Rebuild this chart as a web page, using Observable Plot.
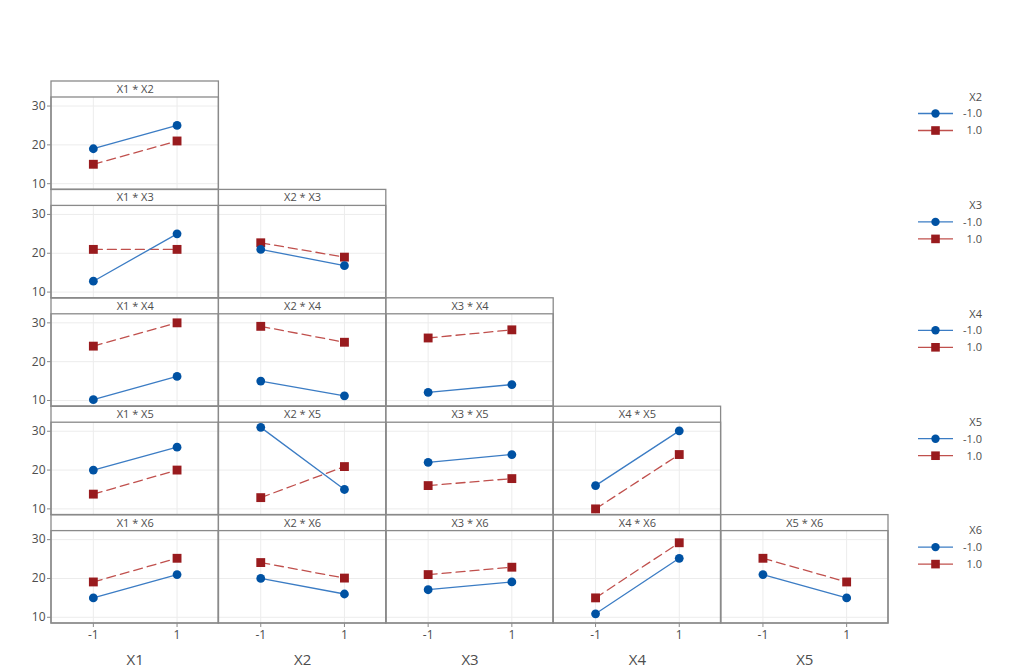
<!DOCTYPE html>
<html>
<head>
<meta charset="utf-8">
<script src="https://cdn.jsdelivr.net/npm/d3@7"></script>
<script src="https://cdn.jsdelivr.net/npm/@observablehq/plot@0.6"></script>
<style>
  html, body { margin: 0; padding: 0; background: #fff; }
  #chart { position: relative; width: 1024px; height: 669px; }
  svg { font-family: "Open Sans", "Noto Sans", sans-serif; }
</style>
</head>
<body>
<div id="chart"></div>
<script>
// ---- data ----
const panels = ["X1 * X2","X1 * X3","X2 * X3","X1 * X4","X2 * X4","X3 * X4",
                "X1 * X5","X2 * X5","X3 * X5","X4 * X5",
                "X1 * X6","X2 * X6","X3 * X6","X4 * X6","X5 * X6"];
const xLevels = [-1, 1];
const traceLevels = ["-1.0", "1.0"];
// mean at x = -1 and x = 1, for trace level -1.0 (blue) and 1.0 (red)
const meansLow  = [[19,25],[12.8,25],[21,16.8],[10.2,16.2],[15,11.2],[12.1,14.1],
                   [20,25.9],[31,15],[22,24],[16,30.1],
                   [15,21],[20,16],[17.1,19.1],[10.9,25.2],[21,15]];
const meansHigh = [[15,21],[21,21],[22.7,19],[24,30],[29.1,25],[26.1,28.2],
                   [13.8,20],[12.9,20.9],[16,17.8],[10,24],
                   [19.1,25.2],[24.1,20.1],[21,22.9],[15,29.2],[25.2,19.1]];
const colFactors = ["X1","X2","X3","X4","X5"];
const rowFactors = ["X2","X3","X4","X5","X6"];
const yTicks = [10, 20, 30];

// ---- build tables ----
const panelInfo = panels.map(p => { const [c, r] = p.split(" * "); return {panel: p, col: c, row: r}; });
const rows = [];
panelInfo.forEach((p, i) => {
  [meansLow, meansHigh].forEach((m, t) => {
    xLevels.forEach((x, j) => rows.push({...p, x, y: m[i][j], trace: traceLevels[t]}));
  });
});
const low = rows.filter(d => d.trace === "-1.0");
const high = rows.filter(d => d.trace === "1.0");

const BLUE = "#0052a3", BLUE_LINE = "#3b7cc4";
const RED = "#991b1e", RED_LINE = "#c0504d";
const FRAME = "#8a8a8a", TEXT = "#4d4d4d", GRID = "#ececec";
const HEADER = 16;

const chart = Plot.plot({
  width: 1024,
  height: 669,
  marginTop: 97,
  marginBottom: 46,
  marginLeft: 51,
  marginRight: 136,
  style: {fontFamily: "'Open Sans', 'Noto Sans', sans-serif", color: TEXT, fontSize: "11px"},
  fx: {domain: colFactors, padding: 0, round: false},
  fy: {domain: rowFactors, paddingInner: 0.1477, paddingOuter: 0, round: false, axis: null},
  x: {domain: [-2, 2]},
  y: {domain: [8.4, 32.2]},
  marks: [
    Plot.gridX(xLevels, {stroke: GRID, strokeOpacity: 1, strokeWidth: 1}),
    Plot.gridY(yTicks, {stroke: GRID, strokeOpacity: 1, strokeWidth: 1}),
    Plot.axisY(yTicks, {tickSize: 4, tickPadding: 2, label: null, fontSize: 12, stroke: FRAME, fill: TEXT}),
    Plot.axisX(xLevels, {tickSize: 4, tickPadding: 3, label: null, fontSize: 12, tickFormat: d => String(d), stroke: FRAME, fill: TEXT}),
    Plot.axisFx({anchor: "bottom", tickSize: 0, tickPadding: 31, label: null, fontSize: 15, fill: TEXT}),
    // header box (extends above the panel) and panel frame
    Plot.rect(panelInfo, {fx: "col", fy: "row", fill: "none", stroke: FRAME, strokeWidth: 1.3, insetTop: -HEADER}),
    Plot.rect(panelInfo, {fx: "col", fy: "row", fill: "none", stroke: FRAME, strokeWidth: 1.3}),
    Plot.text(panelInfo, {fx: "col", fy: "row", text: "panel", frameAnchor: "top", lineAnchor: "middle", dy: -HEADER / 2, fontSize: 11, fill: TEXT}),
    Plot.line(high, {fx: "col", fy: "row", x: "x", y: "y", z: "panel", stroke: RED_LINE, strokeWidth: 1.3, strokeDasharray: "9,5"}),
    Plot.line(low, {fx: "col", fy: "row", x: "x", y: "y", z: "panel", stroke: BLUE_LINE, strokeWidth: 1.3}),
    Plot.dot(high, {fx: "col", fy: "row", x: "x", y: "y", symbol: "square", r: 5, fill: RED, stroke: "none"}),
    Plot.dot(low, {fx: "col", fy: "row", x: "x", y: "y", symbol: "circle", r: 4.4, fill: BLUE, stroke: "none"})
  ]
});
document.getElementById("chart").appendChild(chart);

// ---- legends, one per row, positioned with the fy scale ----
const fy = chart.scale("fy");
const svg = d3.select(chart);
const g = svg.append("g").attr("font-size", 11).attr("fill", TEXT)
  .attr("font-family", "'Open Sans', 'Noto Sans', sans-serif");
const xRight = 982, lx1 = 918, lx2 = 953, lxm = 935.5;
rowFactors.forEach(r => {
  const top = fy.apply(r);
  const lg = g.append("g");
  lg.append("text").attr("x", xRight).attr("y", top).attr("dy", "0.35em").attr("text-anchor", "end").text(r);
  traceLevels.forEach((lvl, i) => {
    const yy = top + 16.5 + i * 17;
    const blue = i === 0;
    lg.append("line").attr("x1", lx1).attr("x2", lx2).attr("y1", yy).attr("y2", yy)
      .attr("stroke", blue ? BLUE_LINE : RED_LINE).attr("stroke-width", 1.3);
    if (blue) lg.append("circle").attr("cx", lxm).attr("cy", yy).attr("r", 4.2).attr("fill", BLUE);
    else lg.append("rect").attr("x", lxm - 4.3).attr("y", yy - 4.3).attr("width", 8.6).attr("height", 8.6).attr("fill", RED);
    lg.append("text").attr("x", xRight).attr("y", yy).attr("dy", "0.35em").attr("text-anchor", "end").text(lvl);
  });
});
</script>
</body>
</html>
